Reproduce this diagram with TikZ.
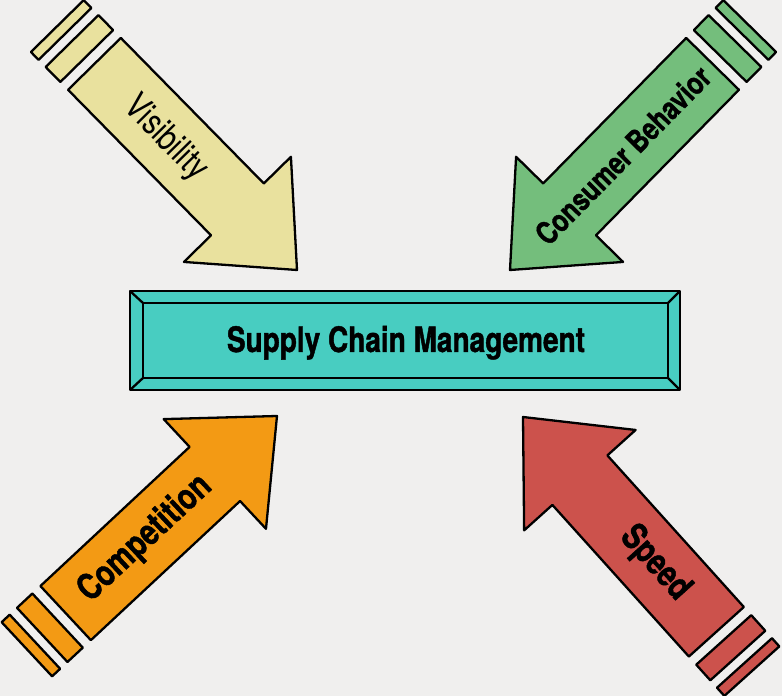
\documentclass[tikz,border=0pt]{standalone}
\usepackage{fontspec}
\newfontfamily\condfont[FakeStretch=0.80, BoldFeatures={FakeBold=1.2}]{TeX Gyre Heros}
\definecolor{bgc}{RGB}{240,239,238}
\definecolor{cyel}{RGB}{233,225,158}
\definecolor{cgrn}{RGB}{116,190,124}
\definecolor{corg}{RGB}{243,154,20}
\definecolor{cred}{RGB}{204,82,76}
\definecolor{ccyn}{RGB}{72,205,193}
\tikzset{
  arrowbody/.style={draw=black, line width=2.3pt, line join=round},
  lbl/.style={transform shape, text=black, inner sep=0pt},
  pics/bigarrow/.style={code={
    \filldraw[arrowbody, fill=#1] (0,0) -- (-85,75) -- (-85,37) -- (-289,37) -- (-289,-37) -- (-85,-37) -- (-85,-75) -- cycle;
    \filldraw[arrowbody, fill=#1] (-300,-37) rectangle (-321,37);
    \filldraw[arrowbody, fill=#1] (-331,-37) rectangle (-342,37);
  }}
}
\begin{document}
\begin{tikzpicture}[x=1pt,y=1pt]
\useasboundingbox (0,0) rectangle (782,696);
\fill[bgc] (0,0) rectangle (782,696);

% Visibility
\begin{scope}[shift={(297,426)}, rotate=-45.5]
  \pic[transform shape] {bigarrow=cyel};
  \node[lbl, font=\condfont\fontsize{36}{40}\selectfont] (vis) at (-186,-2) {Visibility};
\end{scope}

% Consumer Behavior
\begin{scope}[shift={(510,426)}, rotate=-134.5]
  \pic[transform shape] {bigarrow=cgrn};
  \node[lbl, rotate=180, font=\condfont\bfseries\fontsize{31}{34}\selectfont] (cons) at (-161,0) {Consumer Behavior};
\end{scope}

% Competition
\begin{scope}[shift={(277,280)}, rotate=43]
  \pic[transform shape] {bigarrow=corg};
  \node[lbl, font=\condfont\bfseries\fontsize{36}{40}\selectfont] (comp) at (-180,0) {Competition};
\end{scope}

% Speed
\begin{scope}[shift={(523,279)}, rotate=132]
  \pic[transform shape] {bigarrow=cred};
  \node[lbl, rotate=180, font=\condfont\bfseries\fontsize{36}{40}\selectfont] (spd) at (-197,0) {Speed};
\end{scope}

% Central box
\coordinate (oa) at (130,306);
\coordinate (ob) at (680,405);
\coordinate (ia) at (143,318);
\coordinate (ib) at (668,393);
\filldraw[arrowbody, fill=ccyn] (oa) rectangle (ob);
\draw[arrowbody] (ia) rectangle (ib);
\draw[arrowbody] (oa) -- (ia);
\draw[arrowbody] (ob) -- (ib);
\draw[arrowbody] (oa |- ob) -- (ia |- ib);
\draw[arrowbody] (ob |- oa) -- (ib |- ia);
\node[anchor=base, inner sep=0pt, font=\condfont\bfseries\fontsize{35}{40}\selectfont] (scm) at (406,344) {Supply Chain Management};
\end{tikzpicture}
\end{document}
